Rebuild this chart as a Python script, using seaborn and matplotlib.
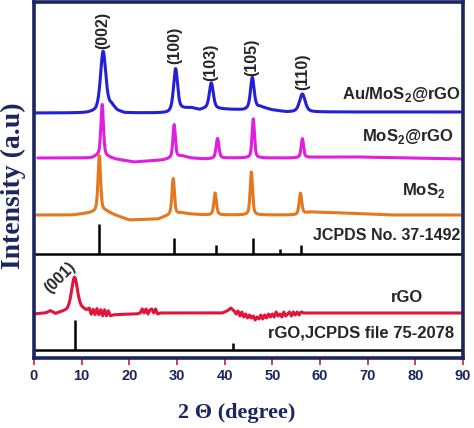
"""
XRD patterns of Au/MoS2@rGO, MoS2@rGO, MoS2 and rGO with JCPDS reference sticks.
"""
import numpy as np
import pandas as pd
import matplotlib
matplotlib.use('Agg')
import matplotlib.pyplot as plt
import seaborn as sns

# ---- data (2θ in degrees, intensity in a.u., stacked) ----
# baseline knots and peaks (centre, height, hwhm)
AU_BASE_X = [0, 11, 13, 16.3, 17.5, 19, 28, 31, 33, 34.8, 35.8, 38.5, 44, 47.5, 50, 53, 89.5]
AU_BASE_Y = [0, 0, 1, 7, 2, 0, 0, 4, 5, 3, 4, 4, 3, 6, 3, 1, 1]
AU_PEAKS = [(14.5, 58, 0.65), (29.7, 42, 0.5), (37.2, 26, 0.5), (45.8, 31, 0.45), (56.3, 18, 0.7)]

MG_BASE_X = [0.8, 5, 12, 13.3, 15.5, 17, 21, 27, 29, 31, 33, 36, 41, 44, 48, 54, 60, 68, 80, 90]
MG_BASE_Y = [0, 0, 0, 2, 1, -1, -4, -2, 0, 2, 0, -1, 0, 0, 0, 0, 1, 1, 0, -1]
MG_PEAKS = [(14.3, 52, 0.32), (29.4, 33, 0.3), (38.5, 20, 0.35), (46.0, 39, 0.3), (56.3, 19, 0.3)]

MO_BASE_X = [0.6, 8, 11.5, 13, 15, 17, 20, 26, 28.5, 31, 33, 36, 40, 44, 47, 55, 58, 65, 75, 89.5]
MO_BASE_Y = [0, 0, 2, 3, 4, 0, -5, -4, 0, 2, 1, 0, 0, 0, 0, 0, 3, 2, 0, 0]
MO_PEAKS = [(13.7, 56, 0.32), (29.2, 36, 0.3), (38.0, 22, 0.32), (45.6, 43, 0.3), (55.9, 21, 0.32)]

RGO_BASE_X = [0.2, 2.5, 3.4, 3.9, 4.5, 5.2, 6.3, 7.0, 10.4, 11.0, 11.6, 12.0, 12.4, 12.8, 13.2,
              13.6, 14.0, 14.4, 14.8, 15.2, 15.6, 16.0, 16.6, 18, 21.5, 22.3, 22.7, 23.1, 23.5,
              23.9, 24.3, 24.7, 25.1, 25.5, 25.9, 26.5, 39.5, 40.5, 41.3, 42.0, 42.4, 42.8, 43.2,
              43.6, 44.0, 44.4, 44.8, 45.2, 45.6, 46.0, 46.4, 46.8, 47.2, 47.6, 48.0, 48.4, 48.8,
              49.2, 49.6, 50.0, 50.4, 50.8, 51.2, 51.6, 52.0, 52.4, 52.8, 53.2, 53.6, 54.0, 54.4,
              54.8, 55.2, 55.6, 56.0, 56.6, 58.0, 90]
RGO_BASE_Y = [-1, 0, 2, 1, -1, 0, 1, 1, 3, 2, 4, -2, 3, -2, 4, -2, 3, -3, 3, -3, 2, -3, -2, -1.5,
              -1, 0, 4, 0, 4, -1, 3, 4, 0, 4, -1, 0, 0, 2, 5, 2, -1, 2, -3, 1, -4, -1, -5, -2, -5,
              -3, -7, -4, -6, -2, -6, -2, -5, -1, -4, -1, -4, 1, -3, -1, -4, 1, -3, -1, 1, -3, 1,
              -2, 1, -2, 1, 0, 0, 0]
RGO_PEAKS = [(8.5, 34, 0.75)]

# stacking offsets
OFFSETS = {'Au/MoS2@rGO': 245, 'MoS2@rGO': 200, 'MoS2': 143, 'rGO': 45}

# JCPDS reference sticks (2θ, relative height)
MOS2_REF_POS = [13.7, 29.4, 38.2, 46.0, 51.7, 56.1]
MOS2_REF_H = [30, 16, 9, 16, 5, 9]
MOS2_REF_BASE = 104
RGO_REF_POS = [8.7, 41.8]
RGO_REF_H = [30, 7]
RGO_REF_BASE = 8

HKL = ['(002)', '(100)', '(103)', '(105)', '(110)']
HKL_X = [14.5, 29.6, 37.1, 45.7, 56.4]
HKL_Y = [328, 313, 296, 301, 286]

COLORS = {'Au/MoS2@rGO': '#2420d6', 'MoS2@rGO': '#e01ee0',
          'MoS2': '#e5781e', 'rGO': '#e0143c'}
NAVY = '#1b2660'


def pv(x, c, w):
    g = np.exp(-np.log(2) * ((x - c) / w) ** 2)
    l = 1.0 / (1.0 + ((x - c) / w) ** 2)
    return 0.5 * g + 0.5 * l


def profile(bx, by, peaks, offset):
    x = np.arange(bx[0], bx[-1] + 1e-9, 0.02)
    y = np.interp(x, bx, by)
    for c, h, w in peaks:
        y = y + h * pv(x, c, w)
    return x, y + offset


frames = []
for name, bx, by, pk in [('Au/MoS2@rGO', AU_BASE_X, AU_BASE_Y, AU_PEAKS),
                         ('MoS2@rGO', MG_BASE_X, MG_BASE_Y, MG_PEAKS),
                         ('MoS2', MO_BASE_X, MO_BASE_Y, MO_PEAKS),
                         ('rGO', RGO_BASE_X, RGO_BASE_Y, RGO_PEAKS)]:
    x, y = profile(bx, by, pk, OFFSETS[name])
    frames.append(pd.DataFrame({'two_theta': x, 'intensity': y, 'sample': name}))
df = pd.concat(frames, ignore_index=True)

sns.set_style('white')
plt.rcParams['font.family'] = ['Liberation Sans', 'DejaVu Sans']
plt.rcParams['mathtext.fontset'] = 'custom'
plt.rcParams['mathtext.rm'] = 'Liberation Sans:bold'

fig = plt.figure(figsize=(4.74, 4.28), dpi=100)
ax = fig.add_axes([34 / 474, 70 / 428, 429 / 474, 356 / 428])

sns.lineplot(data=df, x='two_theta', y='intensity', hue='sample', palette=COLORS,
             estimator=None, sort=False, linewidth=2.2, legend=False, ax=ax)

# reference patterns
ax.vlines(MOS2_REF_POS, MOS2_REF_BASE, np.array(MOS2_REF_H) + MOS2_REF_BASE,
          color='black', linewidth=1.8)
ax.axhline(MOS2_REF_BASE, color='black', linewidth=1.8)
ax.vlines(RGO_REF_POS, RGO_REF_BASE, np.array(RGO_REF_H) + RGO_REF_BASE,
          color='black', linewidth=1.8)
ax.axhline(RGO_REF_BASE, color='black', linewidth=1.8)

# annotations
for lab, x, y in zip(HKL, HKL_X, HKL_Y):
    ax.text(x, y, lab, rotation=90, ha='center', va='center', fontsize=11.5,
            fontweight='bold')
ax.text(5.4, 80, '(001)', rotation=45, ha='center', va='center', fontsize=11.5,
        fontweight='bold')

ax.text(89.6, 263, r'Au/MoS$_\mathrm{2}$@rGO', ha='right', va='center', fontsize=12, fontweight='bold')
ax.text(88.1, 221, r'MoS$_\mathrm{2}$@rGO', ha='right', va='center', fontsize=12, fontweight='bold')
ax.text(86.2, 168, r'MoS$_\mathrm{2}$', ha='right', va='center', fontsize=12, fontweight='bold')
ax.text(89.4, 122, 'JCPDS No. 37-1492', ha='right', va='center', fontsize=11.5, fontweight='bold')
ax.text(74.9, 60, 'rGO', ha='left', va='center', fontsize=12, fontweight='bold')
ax.text(49.1, 25, 'rGO,JCPDS file 75-2078', ha='left', va='center', fontsize=12, fontweight='bold')

ax.set_xlim(0, 90)
ax.set_ylim(0, 356)
ax.set_xticks(range(0, 91, 10))
ax.set_yticks([])
ax.tick_params(axis='x', direction='out', length=5, width=1.2, color='#d02020',
               labelcolor=NAVY, labelsize=10.5, pad=3, bottom=True)
for t in ax.get_xticklabels():
    t.set_fontweight('bold')
for s in ax.spines.values():
    s.set_color(NAVY)
    s.set_linewidth(2.6)
ax.set_xlabel('')
ax.set_ylabel('')

fig.text(237 / 474, 1 - 413 / 428, '2 Θ (degree)', ha='center', va='center',
         fontsize=16, fontweight='bold', color=NAVY, family=['Liberation Serif', 'DejaVu Serif'])
fig.text(13 / 474, 1 - 186 / 428, 'Intensity (a.u)', ha='center', va='center', rotation=90,
         fontsize=20, fontweight='bold', color=NAVY, family=['Liberation Serif', 'DejaVu Serif'])

fig.savefig('out.png', dpi=100)
plt.close(fig)
